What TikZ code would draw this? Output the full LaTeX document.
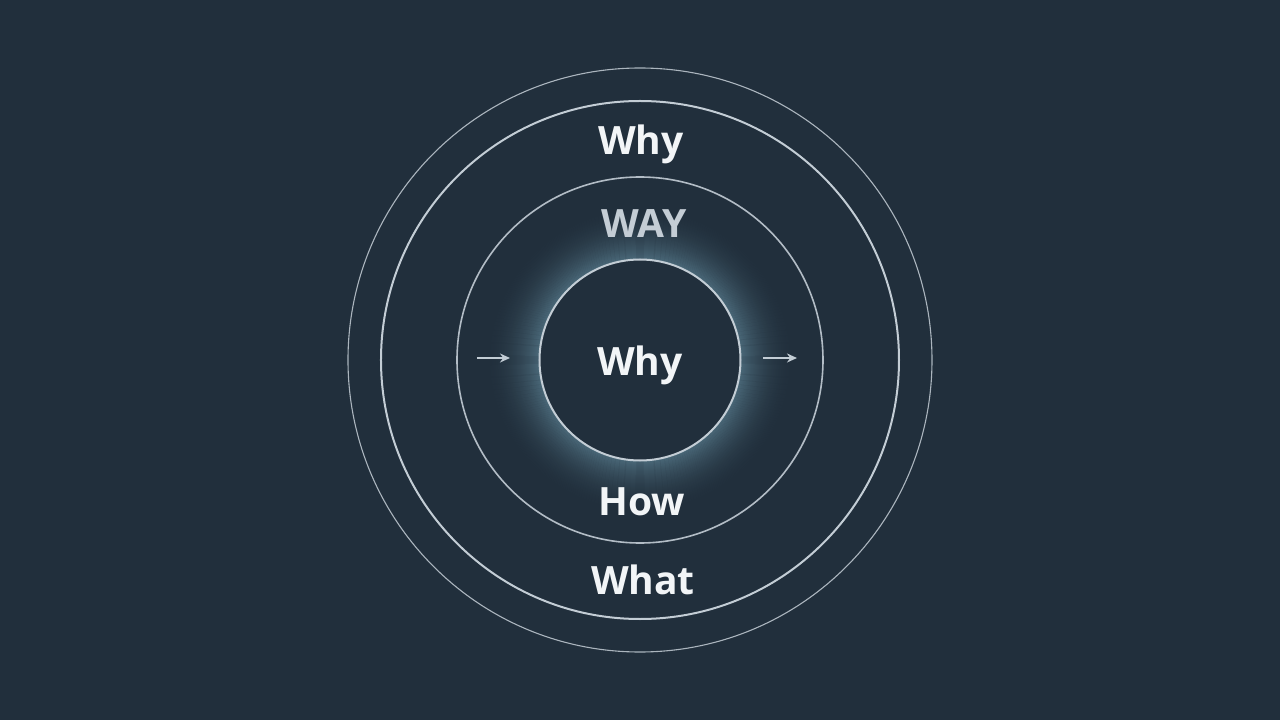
\documentclass[tikz,border=0pt]{standalone}
\usepackage{fontspec}
\setmainfont{Open Sans}
\usetikzlibrary{arrows.meta, positioning}
\definecolor{bgdark}{HTML}{212F3C}
\definecolor{glowblue}{HTML}{4A6878}
\definecolor{ringgray}{HTML}{C3CDD5}
\definecolor{labelwhite}{HTML}{F2F5F7}
\definecolor{labelgray}{HTML}{C4CDD5}

\begin{document}
\begin{tikzpicture}[
x=1pt, y=1pt,
>={Stealth[length=10pt,width=9pt]},
ring/.style={circle, draw=ringgray, inner sep=0pt},
word/.style={anchor=base, text=labelwhite, font=\fontsize{39}{41}\selectfont\bfseries},
flow/.style={->, draw=ringgray, line width=2.6pt},
]
\fill[bgdark] (-640,-360) rectangle (640,360);
\useasboundingbox (-640,-360) rectangle (640,360);

% glow round the core
\foreach \r in {0,...,55}{
  \pgfmathsetmacro{\mix}{100*(1-\r/55)^2}
  \draw[glowblue!\mix!bgdark, line width=1.3pt] (0,0) circle (101+\r);
}

\node[ring, line width=1.1pt, draw=ringgray!85!bgdark, minimum size=584pt] (outer) at (0,0) {};
\node[ring, line width=2pt, minimum size=518pt] (what) at (0,0) {};
\node[ring, line width=1.6pt, draw=ringgray!90!bgdark, minimum size=366pt] (how) at (0,0) {};
\node[ring, line width=2pt, minimum size=201pt] (core) at (0,0) {};

\node[word] (why top) at (1,205) {Why};
\node[word, text=labelgray] (way) at (4,122) {WAY};
\node[word] (why mid) at (0,-16) {Why};
\node[word] (how label) at (2,-155) {How};
\node[word] (what label) at (3,-234) {What};

\coordinate (in a) at (-163,2);
\coordinate (in b) at (-130,2);
\coordinate (out a) at (123,2);
\coordinate (out b) at (157,2);
\draw[flow] (in a) -- (in b);
\draw[flow] (out a) -- (out b);
\end{tikzpicture}
\end{document}
